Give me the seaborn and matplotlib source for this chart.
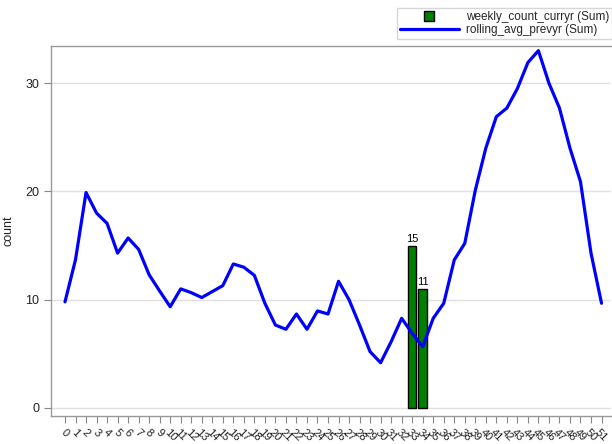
import numpy as np
import pandas as pd
import seaborn as sns
import matplotlib
matplotlib.use('Agg')
import matplotlib.pyplot as plt
from matplotlib.lines import Line2D

# === data ===
weeks = list(range(0, 52))
rolling_avg_prevyr = [9.8, 13.7, 19.9, 18.0, 17.05, 14.3, 15.7, 14.65, 12.3, 10.8,
                      9.35, 11.0, 10.65, 10.2, 10.75, 11.3, 13.3, 13.0, 12.25, 9.67,
                      7.66, 7.27, 8.68, 7.27, 8.96, 8.68, 11.7, 10.0, 7.66, 5.2,
                      4.18, 6.12, 8.28, 6.9, 5.66, 8.28, 9.67, 13.67, 15.2, 20.1,
                      24.0, 26.9, 27.7, 29.5, 31.9, 33.0, 30.0, 27.7, 24.0, 20.9,
                      14.3, 9.67]
curr_weeks = [33, 34]
weekly_count_curryr = [15, 11]

df = pd.DataFrame({'week': weeks, 'rolling_avg_prevyr': rolling_avg_prevyr})
df['weekly_count_curryr'] = np.nan
for w, c in zip(curr_weeks, weekly_count_curryr):
    df.loc[df['week'] == w, 'weekly_count_curryr'] = c

sns.set_style('white')
plt.rcParams['font.family'] = ['Liberation Sans', 'DejaVu Sans']

fig = plt.figure(figsize=(6.12, 4.44), dpi=100)
ax = fig.add_axes([51 / 612, 1 - 416 / 444, 560 / 612, 370 / 444])

sns.barplot(data=df, x='week', y='weekly_count_curryr', order=weeks,
            color='#007F00', saturation=1, width=0.81,
            edgecolor='black', linewidth=1, ax=ax, zorder=2)
for w, c in zip(curr_weeks, weekly_count_curryr):
    ax.text(weeks.index(w), c + 0.15, str(c), ha='center', va='bottom',
            fontsize=8, color='black')

sns.lineplot(data=df, x='week', y='rolling_avg_prevyr', color='#0000FF',
             linewidth=2.3, ax=ax, zorder=3)

ax.set_xlim(-1.33, 51.9)
ax.set_ylim(-0.74, 33.43)
ax.set_yticks([0, 10, 20, 30])
ax.yaxis.grid(True, color='#e0e0e0', linewidth=1)
ax.set_axisbelow(True)

ax.set_xticks(range(len(weeks)))
ax.set_xticklabels([str(w) for w in weeks], rotation=-45, ha='center', va='top',
                   fontsize=8, color='#222222')
ax.tick_params(axis='x', direction='out', length=5, width=0.8, color='#888888',
               bottom=True, pad=3)
ax.tick_params(axis='y', direction='out', length=5, width=0.8, color='#888888',
               left=True, labelsize=9, labelcolor='#222222')

for s in ax.spines.values():
    s.set_color('#999999')
    s.set_linewidth(1)
ax.spines['right'].set_visible(False)

ax.set_xlabel('')
ax.set_ylabel('count', fontsize=9, color='#222222', labelpad=8)

handles = [Line2D([], [], marker='s', linestyle='none', markersize=7,
                  markerfacecolor='#007F00', markeredgecolor='black'),
           Line2D([], [], color='#0000FF', linewidth=2.3)]
leg = fig.legend(handles, ['weekly_count_curryr (Sum)', 'rolling_avg_prevyr (Sum)'],
                 loc='upper right', bbox_to_anchor=(1.0, 1 - 8 / 444),
                 fontsize=8.5, frameon=True, fancybox=False, handlelength=5.0,
                 borderpad=0.25, labelspacing=0.1, handletextpad=0.6,
                 borderaxespad=0)
leg.get_frame().set_edgecolor('#cccccc')
leg.get_frame().set_linewidth(1)

plt.savefig('out.png', dpi=100)
